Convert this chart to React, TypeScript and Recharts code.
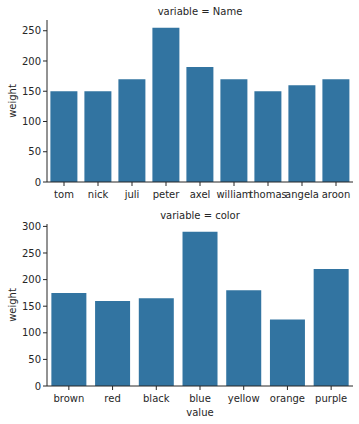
import { BarChart, Bar, XAxis, YAxis } from "recharts";

const names = ["tom", "nick", "juli", "peter", "axel", "william", "thomas", "angela", "aroon"];
const nameWeights = [150, 150, 170, 255, 190, 170, 150, 160, 170];

const colors = ["brown", "red", "black", "blue", "yellow", "orange", "purple"];
const colorWeights = [175, 160, 165, 290, 180, 125, 220];

const nameTicks = [0, 50, 100, 150, 200, 250];
const colorTicks = [0, 50, 100, 150, 200, 250, 300];

const BAR = "#3274a1";
const INK = "#262626";
const FONT = "'DejaVu Sans', sans-serif";

const nameData = names.map((value, i) => ({ value, weight: nameWeights[i] }));
const colorData = colors.map((value, i) => ({ value, weight: colorWeights[i] }));

const tickStyle = { fontSize: 10, fill: INK, fontFamily: FONT };

function Facet({
  data,
  ticks,
  title,
  height,
  top,
  xHeight,
  xLabel,
}: {
  data: { value: string; weight: number }[];
  ticks: number[];
  title: string;
  height: number;
  top: number;
  xHeight: number;
  xLabel?: string;
}) {
  const max = Math.max(...data.map((d) => d.weight)) * 1.05;
  return (
    <div style={{ position: "relative", width: 359, height }}>
      <div
        style={{
          position: "absolute",
          left: 47,
          width: 306,
          top: top - 14,
          textAlign: "center",
          fontFamily: FONT,
          fontSize: 10,
          color: INK,
        }}
      >
        {title}
      </div>
      <BarChart
        width={359}
        height={height}
        data={data}
        margin={{ top, right: 6, left: 0, bottom: 0 }}
      >
        <XAxis
          dataKey="value"
          interval={0}
          height={xHeight}
          tick={tickStyle}
          tickSize={4}
          tickMargin={5}
          stroke={INK}
          label={
            xLabel
              ? { value: xLabel, position: "insideBottom", offset: 8, style: tickStyle }
              : undefined
          }
        />
        <YAxis
          width={47}
          domain={[0, max]}
          ticks={ticks}
          tick={tickStyle}
          tickSize={4}
          tickMargin={2}
          stroke={INK}
          label={{
            value: "weight",
            angle: -90,
            position: "insideLeft",
            offset: 12,
            style: { ...tickStyle, textAnchor: "middle" },
          }}
        />
        <Bar dataKey="weight" fill={BAR} isAnimationActive={false} />
      </BarChart>
    </div>
  );
}

export default function App() {
  return (
    <div style={{ position: "absolute", left: 0, top: 0, width: 359, height: 424, background: "#fff" }}>
      <Facet data={nameData} ticks={nameTicks} title="variable = Name" height={200} top={20} xHeight={18} />
      <Facet
        data={colorData}
        ticks={colorTicks}
        title="variable = color"
        height={224}
        top={24}
        xHeight={38}
        xLabel="value"
      />
    </div>
  );
}
